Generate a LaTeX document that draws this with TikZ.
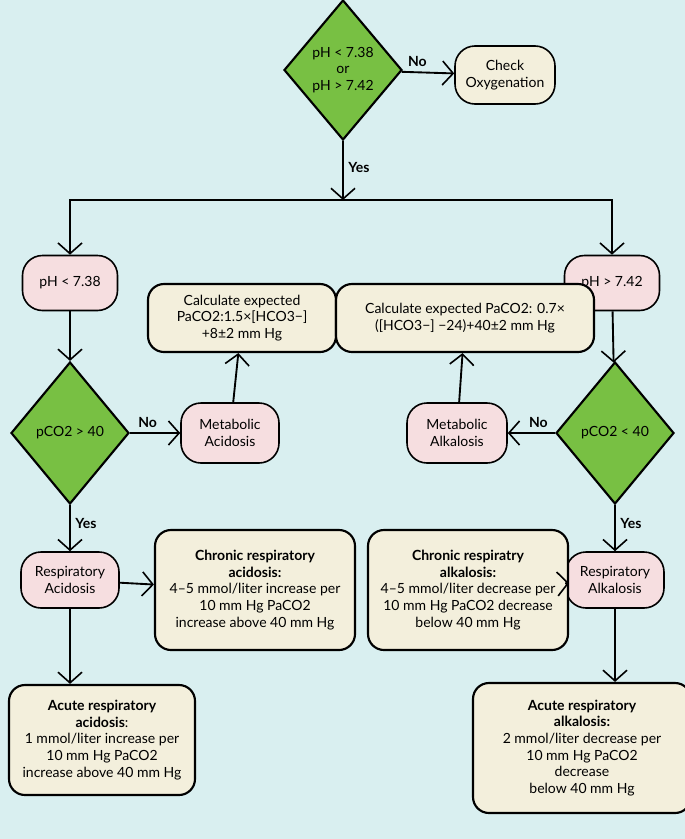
\documentclass[tikz,border=0pt]{standalone}
\usepackage{fontspec}
\setmainfont{Lato}
\usetikzlibrary{shapes.geometric,arrows.meta}
\definecolor{bgc}{HTML}{D9EFF0}
\definecolor{leaf}{HTML}{78C043}
\definecolor{cream}{HTML}{F3EFDC}
\definecolor{rose}{HTML}{F6DEE0}
\tikzset{
  sz/.style 2 args={minimum width=#1*0.75pt,minimum height=#2*0.75pt},
  dec/.style={diamond,draw,line width=1.6pt,fill=leaf,inner sep=0pt,align=center,font=\fontsize{10.5}{12.5}\selectfont},
  infobox/.style={rectangle,rounded corners=12pt,draw,line width=1.6pt,fill=cream,align=center,font=\fontsize{10.5}{12.5}\selectfont,inner sep=2pt},
  state/.style={rectangle,rounded corners=15pt,draw,line width=1.2pt,fill=rose,align=center,font=\fontsize{10.5}{12.5}\selectfont},
  flow/.style={line width=1.4pt,-{Straight Barb[length=8pt,width=18pt,line width=1.2pt]}},
  lab/.style={font=\fontsize{10.5}{12.5}\selectfont\bfseries}
}
\begin{document}
\begin{tikzpicture}[x=0.75pt,y=-0.75pt]
   \fill[bgc] (0,0) rectangle (685,839);
   \useasboundingbox (0,0) rectangle (685,839);

   % top
   \node[dec,sz={118}{140}] (ph) at (343,70) {pH < 7.38\\or\\pH > 7.42};
   \node[infobox,sz={100}{58},line width=1.2pt,rounded corners=15pt] (oxy) at (505,75) {Check\\Oxygenation};
   \draw[flow] (ph) -- node[lab,above,pos=0.3] {No} (oxy);
   \coordinate (split) at (343,200);
   \draw[flow] (ph) -- node[lab,right,pos=0.45] {Yes} (split);
   \node[state,sz={95}{55}] (low) at (70,283) {pH < 7.38};
   \node[state,sz={95}{55}] (high) at (612,283) {pH > 7.42};
   \draw[flow] (split) -| (low);
   \draw[flow] (split) -| (high);

   % acidosis side
   \node[dec,sz={118}{142}] (pco1) at (70,433) {pCO2 > 40};
   \draw[flow] (low) -- (pco1);
   \node[state,sz={98}{60}] (metac) at (230,433) {Metabolic\\Acidosis};
   \draw[flow] (pco1) -- node[lab,above,pos=0.35] {No} (metac);
   \node[infobox,sz={188}{68}] (calc1) at (242,318) {Calculate expected\\PaCO2:1.5×[HCO3−]\\+8±2 mm Hg};
   \draw[flow] (metac) -- (calc1);
   \node[state,sz={98}{56}] (resac) at (70,580) {Respiratory\\Acidosis};
   \draw[flow] (pco1) -- node[lab,right,pos=0.4] {Yes} (resac);
   \node[infobox,sz={200}{120}] (chrac) at (255,590) {\textbf{Chronic respiratory}\\\textbf{acidosis:}\\4–5 mmol/liter increase per\\10 mm Hg PaCO2\\increase above 40 mm Hg};
   \draw[flow] (resac) -- (chrac);
   \node[infobox,sz={186}{110}] (acuac) at (102,740) {\textbf{Acute respiratory}\\\textbf{acidosis}:\\1 mmol/liter increase per\\10 mm Hg PaCO2\\increase above 40 mm Hg};
   \draw[flow] (resac) -- (resac |- acuac.north);

   % alkalosis side
   \node[dec,sz={118}{142}] (pco2) at (615,433) {pCO2 < 40};
   \draw[flow] (high) -- (pco2);
   \node[state,sz={100}{60}] (metal) at (457,433) {Metabolic\\Alkalosis};
   \draw[flow] (pco2) -- node[lab,above,pos=0.35] {No} (metal);
   \node[infobox,sz={258}{68}] (calc2) at (465,318) {Calculate expected PaCO2: 0.7×\\([HCO3−] −24)+40±2 mm Hg};
   \draw[flow] (metal) -- (calc2);
   \node[state,sz={98}{56}] (resal) at (615,580) {Respiratory\\Alkalosis};
   \draw[flow] (pco2) -- node[lab,right,pos=0.4] {Yes} (resal);
   \node[infobox,sz={200}{120}] (chral) at (468,590) {\textbf{Chronic respiratry}\\\textbf{alkalosis:}\\4–5 mmol/liter decrease per\\10 mm Hg PaCO2 decrease\\below 40 mm Hg};
   \draw[flow] (resal) -- (chral);
   \node[infobox,sz={218}{130}] (acual) at (582,748) {\textbf{Acute respiratory}\\\textbf{alkalosis:}\\2 mmol/liter decrease per\\10 mm Hg PaCO2\\decrease\\below 40 mm Hg};
   \draw[flow] (resal) -- (resal |- acual.north);
\end{tikzpicture}
\end{document}
